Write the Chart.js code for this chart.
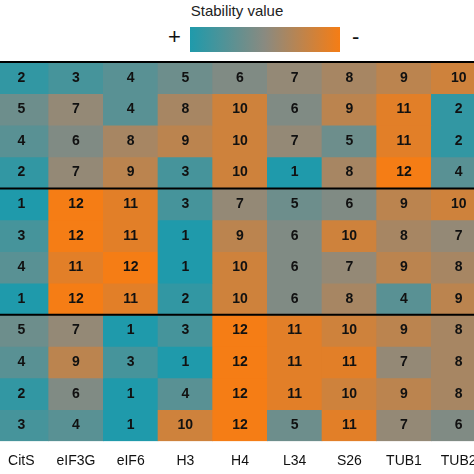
<!DOCTYPE html>
<html><head><meta charset="utf-8">
<script src="https://cdn.jsdelivr.net/npm/chart.js@4.4.0/dist/chart.umd.min.js"></script>
<style>
body{margin:0;width:474px;height:474px;overflow:hidden;background:#fff;font-family:"Liberation Sans",Arial,sans-serif;position:relative}
#t{position:absolute;left:0;width:474px;top:2px;text-align:center;font-size:15px;color:#222}
#bar{position:absolute;left:190px;top:27px;width:150px;height:25px;background:linear-gradient(to right,#1f9aab,#8a8a80,#f57d15)}
.s{position:absolute;top:24px;font-size:22px;color:#111}
#wrap{position:absolute;left:-6px;top:56px;width:492px;height:418px}
</style></head><body>
<div id="t">Stability value</div>
<div class="s" style="left:168px">+</div>
<div id="bar"></div>
<div class="s" style="left:352px">-</div>
<div id="wrap"><canvas id="c"></canvas></div>
<script>
const columns=["CitS","eIF3G","eIF6","H3","H4","L34","S26","TUB1","TUB2"];
const rows=[
[2,3,4,5,6,7,8,9,10],
[5,7,4,8,10,6,9,11,2],
[4,6,8,9,10,7,5,11,2],
[2,7,9,3,10,1,8,12,4],
[1,12,11,3,7,5,6,9,10],
[3,12,11,1,9,6,10,8,7],
[4,11,12,1,10,6,7,9,8],
[1,12,11,2,10,6,8,4,9],
[5,7,1,3,12,11,10,9,8],
[4,9,3,1,12,11,11,7,8],
[2,6,1,4,12,11,10,9,8],
[3,4,1,10,12,5,11,7,6]];
const groupBreaks=[0,4,8];
function lerp(a,b,t){return a.map((v,i)=>Math.round(v+(b[i]-v)*t));}
function col(v){const lo=[31,154,171],mid=[138,138,128],hi=[245,125,21];
 const t=(v-1)/11;return 'rgb('+(t<0.5?lerp(lo,mid,t*2):lerp(mid,hi,(t-0.5)*2)).join(',')+')';}
const datasets=rows.map(r=>({data:r.map(()=>1),vals:r,backgroundColor:r.map(col),borderWidth:0,stack:'s',categoryPercentage:1,barPercentage:1}));
const overlay={id:'ov',afterDatasetsDraw(ch){
 const ctx=ch.ctx,x=ch.scales.x,y=ch.scales.y;
 ctx.save();ctx.font='bold 14px "Liberation Sans",Arial';ctx.fillStyle='#111';ctx.textAlign='center';ctx.textBaseline='middle';
 rows.forEach((r,i)=>r.forEach((v,j)=>{ctx.fillText(v,x.getPixelForValue(j),y.getPixelForValue(i+0.5));}));
 ctx.strokeStyle='#000';ctx.lineWidth=2;
 groupBreaks.forEach(b=>{const p=y.getPixelForValue(b);ctx.beginPath();ctx.moveTo(ch.chartArea.left,p);ctx.lineTo(ch.chartArea.right,p);ctx.stroke();});
 ctx.restore();}};
new Chart(document.getElementById('c'),{type:'bar',data:{labels:columns,datasets},
 options:{responsive:true,maintainAspectRatio:false,animation:false,
 layout:{padding:{top:6,left:0,right:0,bottom:0}},
 plugins:{legend:{display:false},tooltip:{enabled:false}},
 scales:{x:{stacked:true,grid:{display:false},border:{display:false},ticks:{color:'#111',font:{size:14,family:'"Liberation Sans",Arial'},padding:4}},
 y:{stacked:true,reverse:true,min:0,max:12,display:false}}},plugins:[overlay]});
</script></body></html>
